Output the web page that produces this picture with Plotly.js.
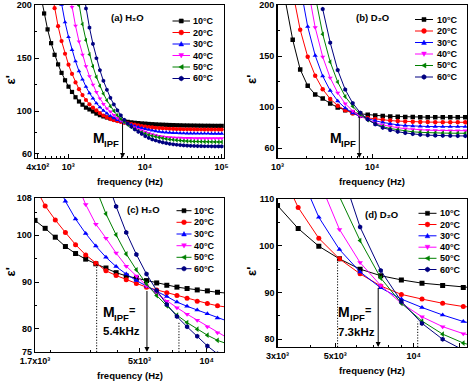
<!DOCTYPE html>
<html><head><meta charset="utf-8">
<script src="https://cdn.plot.ly/plotly-3.0.1.min.js"></script>
<style>html,body{margin:0;padding:0;background:#fff}#chart{width:474px;height:382px}</style>
</head><body><div id="chart"></div>
<script>
// ---------- data ----------
const tempLabels = ["10°C", "20°C", "30°C", "40°C", "50°C", "60°C"];

const freqH2O = [436, 484, 537, 597, 663, 736, 817, 907, 1007, 1118, 1242, 1379, 1531, 1700, 1888, 2096, 2327, 2584, 2869, 3186, 3537, 3928, 4361, 4843, 5377, 5971, 6630, 7362, 8174, 9077, 10079, 11191, 12427, 13799, 15322, 17013, 18891, 20977, 23293, 25864, 28719, 31889, 35409, 39318, 43658, 48477, 53828, 59770, 66368, 73694, 81829, 90862, 100000];
const h2o10 = [209.7, 192, 177, 164, 153, 144, 136, 129, 123, 118, 113, 109, 106, 103.2, 101.5, 99.6, 97.6, 96.1, 94.9, 93.9, 93.0, 92.0, 91.3, 90.8, 90.3, 89.8, 89.3, 88.9, 88.6, 88.3, 88.1, 87.8, 87.6, 87.4, 87.2, 87.1, 86.95, 86.8, 86.7, 86.6, 86.5, 86.4, 86.35, 86.3, 86.25, 86.2, 86.15, 86.1, 86.1, 86.05, 86.0, 86.0, 86.0];
const h2o20 = [null, null, null, 216, 197, 180, 166, 154, 143.7, 135, 127, 120.6, 115, 110.4, 106.3, 103.3, 100.6, 98.0, 95.8, 94.0, 92.4, 91.4, 90.5, 89.7, 88.9, 88.3, 87.7, 87.1, 86.5, 85.9, 85.4, 84.9, 84.5, 84.2, 83.9, 83.7, 83.5, 83.3, 83.15, 83.0, 82.9, 82.8, 82.75, 82.7, 82.65, 82.6, 82.6, 82.55, 82.55, 82.5, 82.5, 82.5, 82.5];
const h2o30 = [null, null, null, null, null, 219, 200.3, 183.7, 169.8, 157.6, 146.9, 137.6, 129.7, 122.9, 116.9, 111.9, 107.3, 103.5, 100.4, 97.7, 95.3, 93.3, 91.7, 90.3, 89.1, 88.0, 86.9, 85.7, 84.8, 84.0, 83.2, 82.3, 81.6, 81.0, 80.5, 80.1, 79.8, 79.6, 79.4, 79.25, 79.1, 79.0, 78.95, 78.9, 78.85, 78.8, 78.8, 78.75, 78.75, 78.7, 78.7, 78.7, 78.7];
const h2o40 = [null, null, null, null, null, null, null, null, 217, 198, 180.5, 165.6, 153.1, 142.3, 132.8, 124.8, 117.8, 111.8, 106.6, 102.4, 99.4, 96.2, 93.4, 91.3, 89.2, 87.5, 85.9, 84.5, 83.1, 81.8, 80.4, 79.1, 78.0, 77.1, 76.4, 75.9, 75.5, 75.2, 74.95, 74.8, 74.65, 74.55, 74.45, 74.4, 74.35, 74.3, 74.3, 74.25, 74.25, 74.2, 74.2, 74.2, 74.2];
const h2o50 = [null, null, null, null, null, null, null, null, null, null, 220.7, 199.6, 181.9, 166.8, 153.4, 142.1, 132.1, 123.7, 116.4, 110.1, 104.6, 100.1, 96.0, 92.6, 89.6, 87.1, 84.9, 82.9, 81.3, 79.9, 78.6, 77.5, 76.6, 75.8, 75.0, 74.3, 73.7, 73.2, 72.8, 72.4, 72.1, 71.85, 71.6, 71.45, 71.3, 71.2, 71.1, 71.0, 70.95, 70.9, 70.85, 70.8, 70.8];
const h2o60 = [null, null, null, null, null, null, null, null, null, null, null, null, 217.4, 196.7, 178.7, 163.3, 149.8, 138.5, 128.5, 120.0, 112.5, 106.2, 100.6, 95.9, 91.7, 88.2, 85.2, 82.6, 80.4, 78.4, 76.3, 74.6, 73.3, 72.2, 71.2, 70.4, 69.7, 69.1, 68.6, 68.2, 67.9, 67.6, 67.4, 67.2, 67.05, 66.95, 66.9, 66.8, 66.8, 66.75, 66.7, 66.7, 66.7];

const freqD2O = [1005, 1206, 1447, 1736, 2083, 2500, 3000, 3600, 4320, 5184, 6221, 7465, 8958, 10750, 12900, 15480, 18576, 22291, 26749, 32099, 38519, 46223, 55467, 66561, 79873, 95848];
const d2o10 = [250, 205, 166, 137, 121, 112.5, 108.6, 103.7, 99.9, 97.2, 95.0, 93.6, 92.7, 92.0, 91.5, 91.1, 90.8, 90.6, 90.45, 90.35, 90.3, 90.25, 90.2, 90.2, 90.2, 90.2];
const d2o20 = [null, null, 213, 175.8, 149.4, 130.9, 117.6, 108.2, 101.6, 97.2, 94.0, 91.4, 89.6, 88.6, 87.7, 87.0, 86.5, 86.1, 85.85, 85.65, 85.5, 85.45, 85.4, 85.35, 85.3, 85.3];
const d2o30 = [null, null, null, 218.6, 178.9, 150.6, 130.5, 116.3, 106.1, 99.2, 94.4, 91.0, 88.6, 86.8, 85.2, 83.8, 82.8, 82.1, 81.6, 81.35, 81.2, 81.1, 81.05, 81.0, 81.0, 81.0];
const d2o40 = [null, null, null, null, 218, 178, 149.3, 128.8, 114.1, 103.5, 96.4, 91.5, 87.7, 84.8, 82.7, 81.2, 80.0, 79.1, 78.4, 77.9, 77.6, 77.4, 77.25, 77.15, 77.1, 77.1];
const d2o50 = [null, null, null, null, null, 209, 171.5, 144.3, 124.7, 110.5, 101.1, 93.1, 87.7, 83.9, 81.1, 79.2, 77.9, 76.8, 76.0, 75.5, 75.1, 74.9, 74.75, 74.65, 74.6, 74.6];
const d2o60 = [null, null, null, null, null, null, 196, 163.2, 136.4, 117.3, 104.0, 94.7, 88.1, 83.4, 80.0, 77.7, 76.1, 74.9, 73.9, 73.2, 72.7, 72.4, 72.2, 72.1, 72.0, 72.0];

// tick labels
const tickA = {vals: [400, 1000, 10000, 100000], text: ["4x10²", "10³", "10⁴", "10⁵"]};
const tickB = {vals: [1000, 10000, 100000], text: ["10³", "10⁴", "10⁵"]};
const tickC = {vals: [1700, 5000, 10000], text: ["1.7x10³", "5x10³", "10⁴"]};
const tickD = {vals: [3000, 5000, 10000, 15000], text: ["3x10³", "5x10³", "10⁴", "1.5x10⁴"]};
const yTickAB = [60, 100, 150, 200];
const yTickC = [75, 80, 90, 100, 108];
const yTickD = [80, 90, 100, 110];

// crossing frequencies / levels (annotations)
const ipfH2O = {label: "5.4kHz", f: 5400, fA: 5100, topA: 89.9, topC: 88.4, dotL: [3213, 93.8], dotR: [7516, 81.6]};
const ipfD2O = {label: "7.3kHz", f: 7300, topB: 92.5, topD: 91.3, dotL: [5100, 97.5], dotR: [10350, 83.8]};

// ---------- styling ----------
const colors = ["#000000", "#ff0000", "#0000ff", "#ff00ff", "#008000", "#000080"];
const symbols = ["square", "circle", "triangle-up", "triangle-down", "triangle-left", "hexagon"];
const FAM = "Liberation Sans, Arial, sans-serif";
const tickFont = {family: FAM, size: 9, color: "#000", weight: "bold"};
const W = 474, H = 382;
const X = p => p / W, Y = p => 1 - p / H;

const h2oSeries = [h2o10, h2o20, h2o30, h2o40, h2o50, h2o60];
const d2oSeries = [d2o10, d2o20, d2o30, d2o40, d2o50, d2o60];

const traces = [];
function addPanel(freq, series, xa, ya, msize) {
  series.forEach((s, i) => {
    traces.push({
      x: freq, y: s, xaxis: xa, yaxis: ya, type: "scatter", mode: "lines+markers",
      name: tempLabels[i], showlegend: false, hoverinfo: "skip",
      line: {color: colors[i], width: 1},
      marker: {symbol: symbols[i], size: msize, color: colors[i], line: {width: 0}}
    });
  });
}
addPanel(freqH2O, h2oSeries, "x", "y", 4.2);
addPanel(freqD2O, d2oSeries, "x2", "y2", 4.5);
addPanel(freqH2O, h2oSeries, "x3", "y3", 5);
addPanel(freqD2O, d2oSeries, "x4", "y4", 5);

function decadeMinors(lo, hi) {
  const out = [];
  [100, 1000, 10000].forEach(d => { for (let k = 2; k <= 9; k++) { const v = k * d; if (v > lo && v < hi) out.push(v); } });
  return out;
}
function xax(dom, range, t, anchor) {
  return {
    type: "log", domain: dom, range: range, anchor: anchor,
    tickmode: "array", tickvals: t.vals, ticktext: t.text,
    ticks: "inside", ticklen: 4, tickwidth: 1, tickcolor: "#000",
    showline: true, linewidth: 1.3, linecolor: "#000", mirror: true,
    showgrid: false, zeroline: false, tickfont: tickFont,
    minor: {tickmode: "array", tickvals: decadeMinors(Math.pow(10, range[0]), Math.pow(10, range[1])), ticks: "inside", ticklen: 2, tickwidth: 1, tickcolor: "#000", showgrid: false}
  };
}
function yax(dom, range, vals, minors, anchor) {
  return {
    domain: dom, range: range, anchor: anchor,
    tickmode: "array", tickvals: vals, ticktext: vals.map(String),
    ticks: "inside", ticklen: 4, tickwidth: 1, tickcolor: "#000",
    showline: true, linewidth: 1.3, linecolor: "#000", mirror: true,
    showgrid: false, zeroline: false, tickfont: tickFont,
    minor: {tickmode: "array", tickvals: minors, ticks: "inside", ticklen: 2, tickwidth: 1, tickcolor: "#000", showgrid: false}
  };
}

const xLeft = [X(35), X(224)], xRight = [X(277.5), X(467)];
const layout = {
  width: W, height: H, margin: {l: 0, r: 0, t: 0, b: 0},
  paper_bgcolor: "#fff", plot_bgcolor: "#fff", showlegend: false,
  font: {family: FAM, color: "#000"},
  xaxis: xax(xLeft, [2.566, 5.03], tickA, "y"),
  yaxis: yax([Y(158), Y(5)], [55.7, 200], yTickAB, [80, 125, 175], "x"),
  xaxis2: xax(xRight, [3, 5], tickB, "y2"),
  yaxis2: yax([Y(158), Y(5)], [50.4, 200], yTickAB, [80, 125, 175], "x2"),
  xaxis3: xax(xLeft, [3.2304, 4.078], tickC, "y3"),
  yaxis3: yax([Y(352), Y(198)], [75, 108], yTickC, [85, 95, 105], "x3"),
  xaxis4: xax(xRight, [3.477, 4.204], tickD, "y4"),
  yaxis4: yax([Y(347), Y(199)], [78.35, 110], yTickD, [85, 95, 105], "x4"),
  shapes: [], annotations: []
};

const ann = layout.annotations, shp = layout.shapes;
function txt(text, px, py, size, xanchor, extra) {
  ann.push(Object.assign({xref: "paper", yref: "paper", x: X(px), y: Y(py), text: text, showarrow: false,
    xanchor: xanchor || "center", yanchor: "middle", borderpad: 0, font: {family: FAM, size: size, color: "#000", weight: "bold"}}, extra || {}));
}
// axis titles
txt("frequency (Hz)", 129.5, 181, 9.5);
txt("frequency (Hz)", 372, 181, 9.5);
txt("frequency (Hz)", 129.5, 375, 9.5);
txt("frequency (Hz)", 372, 370, 9.5);
txt("ε'", 9.5, 80, 13, "center", {textangle: -90});
txt("ε'", 251, 80, 13, "center", {textangle: -90});
txt("ε'", 9.5, 272, 13, "center", {textangle: -90});
txt("ε'", 251, 272, 13, "center", {textangle: -90});
// panel labels
txt("(a) H₂O", 127, 17, 9.5);
txt("(b) D₂O", 372, 17, 9.5);
txt("(c) H₂O", 143, 209, 9.5);
txt("(d) D₂O", 381.5, 214, 9.5);
// M_IPF labels (M large, IPF as subscript drawn separately)
function mipf(mx, my, withEq) {
  txt("M", mx, my, 14, "left");
  txt("IPF", mx + 11.5, my + 5.5, 9.5, "left");
  if (withEq) txt("=", mx + 26.5, my - 2, 11, "left");
}
mipf(91.5, 137.5, false);
mipf(328.5, 137.5, false);
mipf(101.5, 311.5, true);
txt(ipfH2O.label, 101.5, 331, 11.5, "left");
mipf(337, 312, true);
txt(ipfD2O.label, 336.5, 331.5, 11.5, "left");

// arrows (log axes: annotation x in log10 units)
function arrow(xa, ya, f, yTop, yBot) {
  const lx = Math.log10(f);
  ann.push({xref: xa, yref: ya, axref: xa, ayref: ya, x: lx, y: yBot, ax: lx, ay: yTop, text: "",
    showarrow: true, arrowhead: 2, arrowsize: 1, arrowwidth: 1, arrowcolor: "#000", standoff: 0, startstandoff: 0});
}
arrow("x", "y", ipfH2O.fA, ipfH2O.topA, 55.7);
arrow("x2", "y2", ipfD2O.f, ipfD2O.topB, 50.4);
arrow("x3", "y3", ipfH2O.f, ipfH2O.topC, 75);
arrow("x4", "y4", ipfD2O.f, ipfD2O.topD, 78.35);

// dotted verticals
function dotted(xa, ya, pt, yBot) {
  shp.push({type: "line", xref: xa, yref: ya, x0: pt[0], x1: pt[0], y0: yBot, y1: pt[1], line: {color: "#000", width: 1, dash: "1.2px,1.6px"}});
}
dotted("x3", "y3", ipfH2O.dotL, 75);
dotted("x3", "y3", ipfH2O.dotR, 75);
dotted("x4", "y4", ipfD2O.dotL, 78.35);
dotted("x4", "y4", ipfD2O.dotR, 78.35);

// legends (drawn manually for compact row spacing)
function markerShape(sym, cx, cy, color, r) {
  const base = {xref: "paper", yref: "paper", fillcolor: color, line: {color: color, width: 0.5}};
  const P = (x, y) => X(x) + "," + Y(y);
  if (sym === "square") return Object.assign({type: "rect", x0: X(cx - r * 0.85), x1: X(cx + r * 0.85), y0: Y(cy - r * 0.85), y1: Y(cy + r * 0.85)}, base);
  if (sym === "circle") return Object.assign({type: "circle", x0: X(cx - r), x1: X(cx + r), y0: Y(cy - r), y1: Y(cy + r)}, base);
  let pts;
  if (sym === "triangle-up") pts = [[cx - r, cy + r * 0.8], [cx + r, cy + r * 0.8], [cx, cy - r]];
  else if (sym === "triangle-down") pts = [[cx - r, cy - r * 0.8], [cx + r, cy - r * 0.8], [cx, cy + r]];
  else if (sym === "triangle-left") pts = [[cx + r * 0.8, cy - r], [cx + r * 0.8, cy + r], [cx - r, cy]];
  else { pts = []; for (let k = 0; k < 6; k++) { const a = Math.PI / 6 + k * Math.PI / 3; pts.push([cx + r * Math.cos(a), cy + r * Math.sin(a)]); } }
  return Object.assign({type: "path", path: "M" + pts.map(p => P(p[0], p[1])).join("L") + "Z"}, base);
}
function legend(x0, x1, tx, rows) {
  rows.forEach((ry, i) => {
    shp.push({type: "line", xref: "paper", yref: "paper", x0: X(x0), x1: X(x1), y0: Y(ry), y1: Y(ry), line: {color: colors[i], width: 1}});
    shp.push(markerShape(symbols[i], (x0 + x1) / 2, ry, colors[i], 2.4));
    txt(tempLabels[i], tx, ry, 9, "left");
  });
}
legend(172.5, 190, 192, [21, 32.5, 44, 55.5, 67, 78.5]);
legend(415, 433, 435.5, [19.5, 31, 42.5, 54, 65.5, 77]);
legend(176.5, 191.5, 192.5, [210.7, 222.3, 234, 245.7, 257.3, 268.7]);
legend(418.5, 436.5, 438.5, [213.3, 224.5, 235.8, 247.2, 258.3, 269.5]);

Plotly.newPlot("chart", traces, layout, {staticPlot: true, displayModeBar: false});
</script></body></html>
